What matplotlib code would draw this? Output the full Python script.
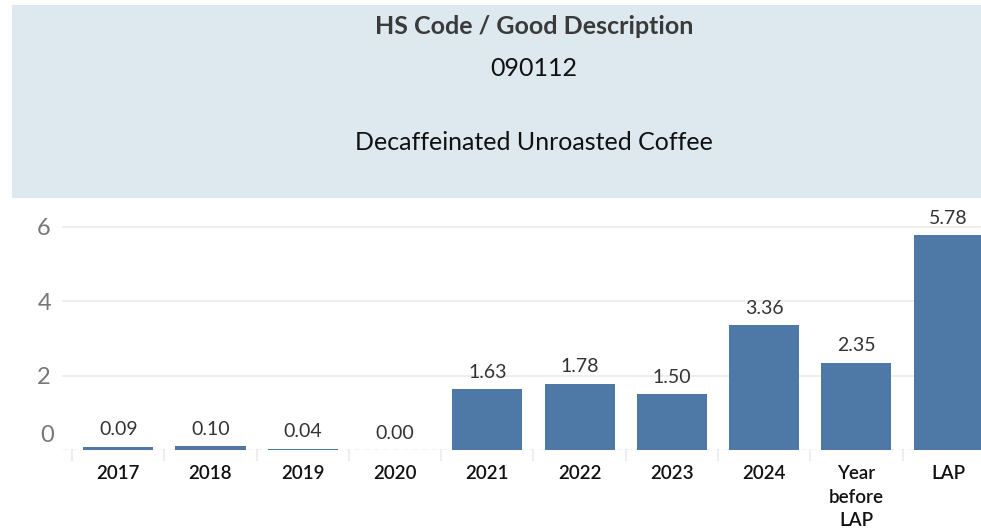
import matplotlib
matplotlib.use("Agg")
import matplotlib.pyplot as plt
from matplotlib.patches import Rectangle
import matplotlib.transforms as mtransforms

categories = ["2017", "2018", "2019", "2020", "2021", "2022", "2023", "2024", "Year\nbefore\nLAP", "LAP"]
values = [0.09, 0.10, 0.04, 0.00, 1.63, 1.78, 1.50, 3.36, 2.35, 5.78]
value_labels = ["0.09", "0.10", "0.04", "0.00", "1.63", "1.78", "1.50", "3.36", "2.35", "5.78"]
y_ticks = [2, 4, 6]
title_line1 = "HS Code / Good Description"
title_line2 = "090112"
title_line3 = "Decaffeinated Unroasted Coffee"

plt.rcParams['font.family'] = ['Lato', 'DejaVu Sans']

W, H = 981, 531
fig = plt.figure(figsize=(W / 100, H / 100), dpi=100)
fig.patch.set_facecolor("white")

# header band
fig.patches.append(Rectangle((12 / W, (H - 198) / H), 969 / W, 193 / H,
                             transform=fig.transFigure, facecolor="#dde9ef",
                             edgecolor="none", zorder=0))
hfam = ['Lato', 'DejaVu Sans']
fig.text(534 / W, 1 - 27 / H, title_line1, ha="center", va="center",
         fontsize=18, fontweight="bold", color="#3a3a3a", family=hfam)
fig.text(534 / W, 1 - 68 / H, title_line2, ha="center", va="center",
         fontsize=18, color="#111111", family=hfam)
fig.text(534 / W, 1 - 143 / H, title_line3, ha="center", va="center",
         fontsize=18, color="#111111", family=hfam)

# axes
ax_left, ax_right = 62 / W, 981 / W
ax_bottom = (H - 450) / H
ax_top = (H - 205) / H
ax = fig.add_axes([ax_left, ax_bottom, ax_right - ax_left, ax_top - ax_bottom])
ax.set_facecolor("none")

x = list(range(len(categories)))
ax.bar(x, values, width=0.76, color="#4e79a7", zorder=3)
for xi, v, lab in zip(x, values, value_labels):
    ax.annotate(lab, (xi, v), xytext=(0, 6), textcoords="offset points",
                ha="center", va="bottom", fontsize=14, color="#333333")

ax.set_xlim(-0.61, 9.35)
ax.set_ylim(0, 6.59)

for s in ax.spines.values():
    s.set_visible(False)

# gridlines
for yt in y_ticks:
    ax.axhline(yt, color="#ebebeb", lw=1.2, zorder=1)
ax.axhline(0, color="#c8c8c8", lw=1, ls=(0, (4, 3)), zorder=2)

ax.set_yticks(y_ticks)
ax.set_yticklabels([str(t) for t in y_ticks], fontsize=17, color="#777777")
ax.tick_params(axis="y", length=0, pad=8)

# zero label slightly above the axis line
lab0 = ax.text(-0.61, 0, "0", ha="right", va="center", fontsize=17, color="#777777")
lab0.set_transform(ax.transData + mtransforms.ScaledTranslation(-8 / 100, 15 / 100, fig.dpi_scale_trans))
lab0.set_clip_on(False)

ax.set_xticks(x)
ax.set_xticklabels(categories, fontsize=13.5, color="#111111", fontweight="semibold",
                   linespacing=1.45, va="top")
ax.tick_params(axis="x", length=0, pad=11)

# category separators
for b in [i + 0.5 for i in range(-1, len(categories) - 1)]:
    ax.plot([b, b], [0, -0.28], color="#eeeeee", lw=1.5, clip_on=False, zorder=1)

fig.savefig("out.png", dpi=100)
